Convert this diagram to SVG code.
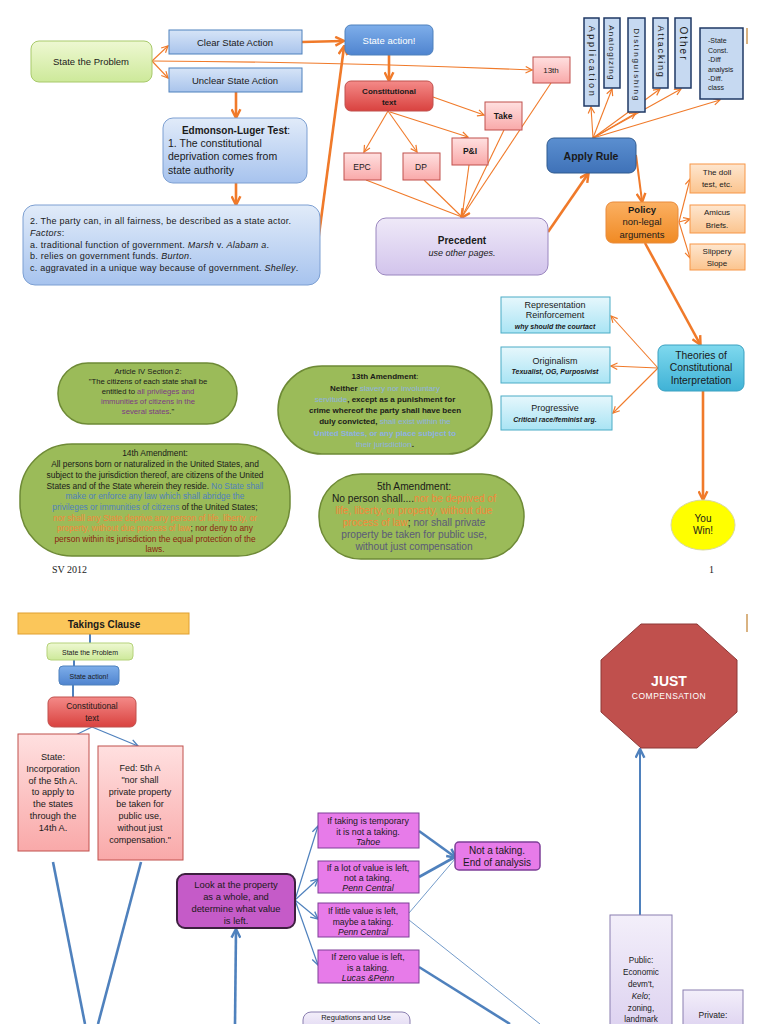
<svg xmlns="http://www.w3.org/2000/svg" width="768" height="1024" viewBox="0 0 768 1024">
<defs>
<linearGradient id="gGreen" x1="0" y1="0" x2="0" y2="1"><stop offset="0" stop-color="#eef8d2"/><stop offset="1" stop-color="#cde99a"/></linearGradient>
<linearGradient id="gLBlue" x1="0" y1="0" x2="0" y2="1"><stop offset="0" stop-color="#d6e4f7"/><stop offset="1" stop-color="#a9c4ec"/></linearGradient>
<linearGradient id="gEdm" x1="0" y1="0" x2="0" y2="1"><stop offset="0" stop-color="#e1ebf9"/><stop offset="1" stop-color="#a7c3ee"/></linearGradient>
<linearGradient id="gSA" x1="0" y1="0" x2="0" y2="1"><stop offset="0" stop-color="#7eaeea"/><stop offset="1" stop-color="#4f84cf"/></linearGradient>
<linearGradient id="gRed" x1="0" y1="0" x2="0" y2="1"><stop offset="0" stop-color="#f48a88"/><stop offset="1" stop-color="#d9423f"/></linearGradient>
<linearGradient id="gPink" x1="0" y1="0" x2="0" y2="1"><stop offset="0" stop-color="#ffe0e0"/><stop offset="1" stop-color="#f9a9a9"/></linearGradient>
<linearGradient id="gPrec" x1="0" y1="0" x2="0" y2="1"><stop offset="0" stop-color="#efe9f8"/><stop offset="1" stop-color="#d2c4ec"/></linearGradient>
<linearGradient id="gApply" x1="0" y1="0" x2="0" y2="1"><stop offset="0" stop-color="#5b8fd0"/><stop offset="1" stop-color="#3f72b8"/></linearGradient>
<linearGradient id="gPolicy" x1="0" y1="0" x2="0" y2="1"><stop offset="0" stop-color="#fbb062"/><stop offset="1" stop-color="#f08a24"/></linearGradient>
<linearGradient id="gPeach" x1="0" y1="0" x2="0" y2="1"><stop offset="0" stop-color="#fee6cf"/><stop offset="1" stop-color="#fbc48e"/></linearGradient>
<linearGradient id="gTheo" x1="0" y1="0" x2="0" y2="1"><stop offset="0" stop-color="#7fd9ee"/><stop offset="1" stop-color="#3fb2d6"/></linearGradient>
<linearGradient id="gCyan" x1="0" y1="0" x2="0" y2="1"><stop offset="0" stop-color="#e6f7fc"/><stop offset="1" stop-color="#a9e4f4"/></linearGradient>
<linearGradient id="gLav" x1="0" y1="0" x2="0" y2="1"><stop offset="0" stop-color="#f3effa"/><stop offset="1" stop-color="#ddd2f0"/></linearGradient>
<marker id="aO" viewBox="0 0 10 10" refX="9" refY="5" markerWidth="8" markerHeight="8" markerUnits="userSpaceOnUse" orient="auto"><path d="M1,1 L9,5 L1,9" fill="none" stroke="#f07a2a" stroke-width="1.5"/></marker>
<marker id="aOB" viewBox="0 0 10 10" refX="8" refY="5" markerWidth="11" markerHeight="11" markerUnits="userSpaceOnUse" orient="auto"><path d="M1,1 L9,5 L1,9" fill="none" stroke="#f07a2a" stroke-width="2.2"/></marker>
<marker id="aB" viewBox="0 0 10 10" refX="9" refY="5" markerWidth="9" markerHeight="9" markerUnits="userSpaceOnUse" orient="auto"><path d="M1,1 L9,5 L1,9" fill="none" stroke="#4f81bd" stroke-width="1.5"/></marker>
<marker id="aBB" viewBox="0 0 10 10" refX="8" refY="5" markerWidth="11" markerHeight="11" markerUnits="userSpaceOnUse" orient="auto"><path d="M1,1 L9,5 L1,9" fill="none" stroke="#4f81bd" stroke-width="2.2"/></marker>
</defs>
<style>
text{font-family:"Liberation Sans",Arial,sans-serif;fill:#1a1a1a;}
.c{text-anchor:middle;}
.b{font-weight:bold;}
.i{font-style:italic;}
.oT{stroke:#f07a2a;stroke-width:1.1;fill:none;}
.oK{stroke:#f07a2a;stroke-width:2.6;fill:none;}
.bT{stroke:#4f81bd;stroke-width:1.2;fill:none;}
.bK{stroke:#4f81bd;stroke-width:2.6;fill:none;}
.pill{fill:#9bbb59;stroke:#6e8a36;stroke-width:1.5;}
.pink{fill:url(#gPink);stroke:#c0504d;stroke-width:1;}
.vbox{fill:#c6d9f1;stroke:#1f3864;stroke-width:1.5;}
.peach{fill:url(#gPeach);stroke:#f79646;stroke-width:1;}
.cyan{fill:url(#gCyan);stroke:#4bacc6;stroke-width:1;}
.purp{fill:#e77be9;stroke:#7e3f98;stroke-width:1;}
.blu{fill:#4f81bd;}
.vio{fill:#7b3a86;}
.org{fill:#f3883a;}
.dred{fill:#8b1f12;}
.lb{fill:#8eb1e0;}
.gp{fill:#5a5a78;}
</style>

<!-- connectors -->
<g id="connectors">
<line class="oT" x1="152" y1="61" x2="168" y2="46" marker-end="url(#aO)"/>
<line class="oT" x1="152" y1="61" x2="168" y2="78" marker-end="url(#aO)"/>
<path class="oT" d="M152,61 Q340,62 532,70" marker-end="url(#aO)"/>
<line class="oK" x1="302" y1="42" x2="343" y2="41" marker-end="url(#aOB)"/>
<line class="oK" x1="236" y1="92" x2="236" y2="117" marker-end="url(#aOB)"/>
<line class="oK" x1="236" y1="183" x2="236" y2="204" marker-end="url(#aOB)"/>
<line class="oK" x1="318" y1="242" x2="344" y2="47" marker-end="url(#aOB)"/>
<line class="oK" x1="389" y1="55" x2="389" y2="80" marker-end="url(#aOB)"/>
<line class="oT" x1="388" y1="111" x2="364" y2="152" marker-end="url(#aO)"/>
<line class="oT" x1="388" y1="111" x2="417" y2="152" marker-end="url(#aO)"/>
<line class="oT" x1="390" y1="112" x2="468" y2="137" marker-end="url(#aO)"/>
<line class="oT" x1="433" y1="97" x2="484" y2="115" marker-end="url(#aO)"/>
<line class="oT" x1="366" y1="180" x2="462" y2="217"/>
<line class="oT" x1="424" y1="180" x2="462" y2="217"/>
<line class="oT" x1="469" y1="165" x2="462" y2="217"/>
<line class="oT" x1="504" y1="130" x2="462" y2="217"/>
<line class="oT" x1="551" y1="83" x2="462" y2="217" marker-end="url(#aOB)"/>
<line class="oK" x1="548" y1="232" x2="588" y2="174" marker-end="url(#aOB)"/>
<line class="oT" x1="593" y1="138" x2="591" y2="107" marker-end="url(#aO)"/>
<line class="oT" x1="593" y1="138" x2="612" y2="89" marker-end="url(#aO)"/>
<line class="oT" x1="593" y1="138" x2="636" y2="113" marker-end="url(#aO)"/>
<line class="oT" x1="593" y1="138" x2="660" y2="89" marker-end="url(#aO)"/>
<line class="oT" x1="593" y1="138" x2="681" y2="89" marker-end="url(#aO)"/>
<line class="oT" x1="593" y1="138" x2="720" y2="100" marker-end="url(#aO)"/>
<line class="oK" style="stroke-width:2" x1="636" y1="155" x2="642" y2="201" marker-end="url(#aOB)"/>
<line class="oT" x1="679" y1="222" x2="690" y2="179" marker-end="url(#aO)"/>
<line class="oT" x1="679" y1="222" x2="690" y2="219" marker-end="url(#aO)"/>
<line class="oT" x1="679" y1="222" x2="690" y2="258" marker-end="url(#aO)"/>
<line class="oK" x1="645" y1="243" x2="700" y2="344" marker-end="url(#aOB)"/>
<line class="oT" x1="658" y1="368" x2="611" y2="316" marker-end="url(#aO)"/>
<line class="oT" x1="658" y1="368" x2="611" y2="366" marker-end="url(#aO)"/>
<line class="oT" x1="658" y1="368" x2="613" y2="413" marker-end="url(#aO)"/>
<line class="oK" x1="703" y1="391" x2="703" y2="499" marker-end="url(#aOB)"/>

<line class="bK" style="stroke-width:2" x1="90" y1="634" x2="90" y2="643"/>
<line class="bK" style="stroke-width:2" x1="74" y1="660" x2="74" y2="666"/>
<line class="bK" style="stroke-width:2" x1="73" y1="685" x2="73" y2="697"/>
<line class="bT" x1="92" y1="727" x2="55" y2="745" marker-end="url(#aB)"/>
<line class="bT" x1="92" y1="727" x2="138" y2="746" marker-end="url(#aB)"/>
<line class="bK" x1="53" y1="862" x2="85" y2="1024"/>
<line class="bK" x1="141" y1="862" x2="98" y2="1024"/>
<line class="bK" x1="235" y1="1024" x2="236" y2="930" marker-end="url(#aBB)"/>
<line class="bT" x1="295" y1="900" x2="318" y2="826" marker-end="url(#aB)"/>
<line class="bT" x1="295" y1="900" x2="318" y2="879" marker-end="url(#aB)"/>
<line class="bT" x1="295" y1="900" x2="318" y2="919" marker-end="url(#aB)"/>
<line class="bT" x1="295" y1="900" x2="318" y2="965" marker-end="url(#aB)"/>
<line class="bK" x1="419" y1="831" x2="455" y2="857" marker-end="url(#aBB)"/>
<line class="bK" x1="419" y1="877" x2="455" y2="857"/>
<line class="bT" style="stroke-width:0.8" x1="409" y1="913" x2="455" y2="859"/>
<line class="bT" style="stroke-width:0.8" x1="409" y1="920" x2="540" y2="1024"/>
<line class="bK" x1="419" y1="967" x2="510" y2="1024"/>
<line class="bK" style="stroke-width:2" x1="640" y1="915" x2="640" y2="750" marker-end="url(#aBB)"/>
</g>

<!-- top page nodes -->
<g id="n-problem"><rect x="31" y="41" width="121" height="41" rx="8" fill="url(#gGreen)" stroke="#a8c96a"/><text class="c" x="91" y="65" font-size="9.5">State the Problem</text></g>
<g id="n-clear"><rect x="169" y="30" width="133" height="24" fill="url(#gLBlue)" stroke="#4f81bd"/><text class="c" x="235" y="46" font-size="9.5">Clear State Action</text></g>
<g id="n-unclear"><rect x="169" y="68" width="133" height="24" fill="url(#gLBlue)" stroke="#4f81bd"/><text class="c" x="235" y="84" font-size="9.5">Unclear State Action</text></g>
<g id="n-edm"><rect x="163" y="118" width="144" height="65" rx="10" fill="url(#gEdm)" stroke="#7c9fd2"/>
<text class="c b" x="236" y="134" font-size="10">Edmonson-Luger Test<tspan font-weight="normal">:</tspan></text>
<text x="168" y="147" font-size="10.5">1. The constitutional</text>
<text x="168" y="160" font-size="10.5">deprivation comes from</text>
<text x="168" y="174" font-size="10.5">state authority</text></g>
<g id="n-party"><rect x="23" y="205" width="297" height="80" rx="12" fill="url(#gEdm)" stroke="#7c9fd2"/>
<g font-size="9" letter-spacing="0.25"><text x="30" y="224">2. The party can, in all fairness, be described as a state actor.</text>
<text x="30" y="236" class="i">Factors<tspan font-style="normal">:</tspan></text>
<text x="30" y="248">a. traditional function of government. <tspan class="i">Marsh</tspan> v. <tspan class="i">Alabam a</tspan>.</text>
<text x="30" y="259">b. relies on government funds. <tspan class="i">Burton</tspan>.</text>
<text x="30" y="271">c. aggravated in a unique way because of government. <tspan class="i">Shelley</tspan>.</text></g></g>
<g id="n-sa"><rect x="345" y="25" width="88" height="30" rx="6" fill="url(#gSA)" stroke="#4f81bd"/><text class="c" x="389" y="44" font-size="9.5" style="fill:#ffffff">State action!</text></g>
<g id="n-ct"><rect x="345" y="81" width="88" height="30" rx="6" fill="url(#gRed)" stroke="#c0504d"/><text class="c b" x="389" y="94" font-size="8">Constitutional</text><text class="c b" x="389" y="105" font-size="8">text</text></g>
<g id="n-13"><rect class="pink" x="533" y="57" width="37" height="26"/><text class="c" x="551" y="73" font-size="8">13th</text></g>
<g id="n-take"><rect class="pink" x="485" y="102" width="37" height="28"/><text class="c b" x="503" y="119" font-size="8.5">Take</text></g>
<g id="n-pi"><rect class="pink" x="452" y="138" width="36" height="27"/><text class="c b" x="470" y="154" font-size="8.5">P&amp;I</text></g>
<g id="n-epc"><rect class="pink" x="344" y="153" width="37" height="27"/><text class="c" x="362" y="170" font-size="8.5">EPC</text></g>
<g id="n-dp"><rect class="pink" x="403" y="153" width="37" height="27"/><text class="c" x="421" y="170" font-size="8.5">DP</text></g>
<g id="n-prec"><rect x="376" y="218" width="172" height="57" rx="10" fill="url(#gPrec)" stroke="#9a86bf"/><text class="c b" x="462" y="244" font-size="10">Precedent</text><text class="c i" x="462" y="256" font-size="9">use other pages.</text></g>
<g id="n-apply"><rect x="547" y="138" width="89" height="35" rx="7" fill="url(#gApply)" stroke="#2f5a8f"/><text class="c b" x="591" y="160" font-size="10.5">Apply Rule</text></g>
<g id="n-appl"><rect class="vbox" x="584" y="18" width="15" height="88"/><text class="c" transform="translate(591.5,62) rotate(90)" y="3" font-size="9" letter-spacing="2.6">Application</text></g>
<g id="n-anal"><rect class="vbox" x="604" y="18" width="16" height="70"/><text class="c" transform="translate(612,53) rotate(90)" y="3" font-size="8" letter-spacing="1.3">Analogizing</text></g>
<g id="n-dist"><rect class="vbox" x="628" y="18" width="17" height="94"/><text class="c" transform="translate(636.5,65) rotate(90)" y="3" font-size="8" letter-spacing="1.7">Distinguishing</text></g>
<g id="n-att"><rect class="vbox" x="653" y="18" width="15" height="70"/><text class="c" transform="translate(660.5,52) rotate(90)" y="3" font-size="9" letter-spacing="1.8">Attacking</text></g>
<g id="n-oth"><rect class="vbox" x="675" y="18" width="16" height="70"/><text class="c" transform="translate(683,44) rotate(90)" y="3.5" font-size="10" letter-spacing="2">Other</text></g>
<g id="n-state"><rect class="vbox" x="700" y="28" width="43" height="71"/>
<g font-size="7"><text x="708" y="43">-State</text><text x="708" y="53">Const.</text><text x="708" y="62">-Diff</text><text x="708" y="72">analysis</text><text x="708" y="81">-Diff.</text><text x="708" y="90">class</text></g></g>
<g id="n-policy"><rect x="606" y="202" width="72" height="41" rx="7" fill="url(#gPolicy)" stroke="#e98a3a"/><text class="c b" x="642" y="213" font-size="9.5">Policy</text><text class="c" x="642" y="225" font-size="9.5">non-legal</text><text class="c" x="642" y="238" font-size="9.5">arguments</text></g>
<g id="n-doll"><rect class="peach" x="690" y="164" width="55" height="29"/><text class="c" x="717" y="175" font-size="8">The doll</text><text class="c" x="717" y="187" font-size="8">test, etc.</text></g>
<g id="n-amicus"><rect class="peach" x="690" y="205" width="55" height="28"/><text class="c" x="717" y="215" font-size="8">Amicus</text><text class="c" x="717" y="228" font-size="8">Briefs.</text></g>
<g id="n-slip"><rect class="peach" x="690" y="244" width="55" height="26"/><text class="c" x="717" y="254" font-size="8">Slippery</text><text class="c" x="717" y="266" font-size="8">Slope</text></g>
<g id="n-theo"><rect x="658" y="345" width="86" height="46" rx="7" fill="url(#gTheo)" stroke="#3aa0c0"/><text class="c" x="701" y="359" font-size="10.3">Theories of</text><text class="c" x="701" y="371" font-size="10.3">Constitutional</text><text class="c" x="701" y="384" font-size="10.3">Interpretation</text></g>
<g id="n-rep"><rect class="cyan" x="501" y="297" width="109" height="36"/><text class="c" x="555" y="308" font-size="9">Representation</text><text class="c" x="555" y="318" font-size="9">Reinforcement</text><text class="c b i" x="555" y="328.5" font-size="7">why should the courtact</text></g>
<g id="n-orig"><rect class="cyan" x="501" y="347" width="109" height="36"/><text class="c" x="555" y="364" font-size="9">Originalism</text><text class="c b i" x="555" y="373.5" font-size="7">Texualist, OG, Purposivist</text></g>
<g id="n-prog"><rect class="cyan" x="501" y="396" width="111" height="34"/><text class="c" x="555" y="411" font-size="9">Progressive</text><text class="c b i" x="555" y="421.5" font-size="7">Critical race/feminist arg.</text></g>
<g id="n-win"><ellipse cx="703" cy="525" rx="32" ry="25" fill="#ffff00" stroke="#d8d8a0"/><text class="c" x="703" y="522" font-size="10">You</text><text class="c" x="703" y="534" font-size="10">Win!</text></g>

<g id="n-art4"><rect class="pill" x="58" y="363" width="179" height="61" rx="30"/>
<g font-size="7.7"><text class="c" x="148" y="374">Article IV Section 2:</text>
<text class="c" x="148" y="384">"The citizens of each state shall be</text>
<text class="c" x="148" y="394">entitled to <tspan class="vio">all privileges and</tspan></text>
<text class="c vio" x="148" y="404">immunities of citizens in the</text>
<text class="c vio" x="148" y="414">several states<tspan style="fill:#1a1a1a">."</tspan></text></g></g>
<g id="n-13a"><rect class="pill" x="278" y="366" width="214" height="88" rx="44"/>
<g font-size="8" class="b"><text class="c b" x="385" y="379">13th Amendment<tspan font-weight="normal">:</tspan></text>
<text class="c b" x="385" y="391">Neither <tspan class="lb" font-weight="normal">slavery nor involuntary</tspan></text>
<text class="c b" x="385" y="402"><tspan class="lb" font-weight="normal">servitude</tspan>, except as a punishment for</text>
<text class="c b" x="385" y="413">crime whereof the party shall have been</text>
<text class="c b" x="385" y="424">duly convicted, <tspan class="lb" font-weight="normal">shall exist within the</tspan></text>
<text class="c lb" x="385" y="436">United States, or any place subject to</text>
<text class="c b" x="385" y="447"><tspan class="lb" font-weight="normal">their jurisdiction</tspan>.</text></g></g>
<g id="n-14a"><rect class="pill" x="20" y="444" width="270" height="112" rx="52"/>
<g font-size="8.4"><text class="c" x="155" y="456">14th Amendment:</text>
<text class="c" x="155" y="467">All persons born or naturalized in the United States, and</text>
<text class="c" x="155" y="478">subject to the jurisdiction thereof, are citizens of the United</text>
<text class="c" x="155" y="489">States and of the State wherein they reside. <tspan class="blu">No State shall</tspan></text>
<text class="c blu" x="155" y="499">make or enforce any law which shall abridge the</text>
<text class="c" x="155" y="510"><tspan class="blu">privileges or immunities of citizens</tspan> of the United States;</text>
<text class="c org" x="155" y="521">nor shall any State deprive any person of life, liberty, or</text>
<text class="c" x="155" y="531"><tspan class="org">property, without due process of law</tspan>; <tspan class="dred">nor deny to any</tspan></text>
<text class="c dred" x="155" y="542">person within its jurisdiction the equal protection of the</text>
<text class="c dred" x="155" y="552">laws.</text></g></g>
<g id="n-5a"><rect class="pill" x="319" y="474" width="205" height="85" rx="42"/>
<g font-size="10.2"><text class="c" x="414" y="490">5th Amendment:</text>
<text class="c" x="414" y="502">No person shall....<tspan class="org">nor be deprived of</tspan></text>
<text class="c org" x="414" y="514">life, liberty, or property, without due</text>
<text class="c gp" x="414" y="526"><tspan class="org">process of law</tspan><tspan style="fill:#1a1a1a">;</tspan> nor shall private</text>
<text class="c gp" x="414" y="538">property be taken for public use,</text>
<text class="c gp" x="414" y="550">without just compensation</text></g></g>
<text x="52" y="573" font-size="10" style="font-family:'Liberation Serif',serif">SV 2012</text>
<text x="709" y="573" font-size="10" style="font-family:'Liberation Serif',serif">1</text>
<rect x="746" y="28" width="2" height="16" fill="#d9b382"/>

<!-- bottom page nodes -->
<g id="b-tak"><rect x="18" y="613" width="171" height="21" fill="#fbc65a" stroke="#e0a030"/><text class="c b" x="104" y="628" font-size="10">Takings Clause</text></g>
<g id="b-prob"><rect x="47" y="643" width="86" height="17" rx="4" fill="url(#gGreen)" stroke="#b5d27a"/><text class="c" x="90" y="655" font-size="7">State the Problem</text></g>
<g id="b-sa"><rect x="59" y="666" width="60" height="19" rx="4" fill="url(#gSA)" stroke="#4f81bd"/><text class="c" x="89" y="679" font-size="7">State action!</text></g>
<g id="b-ct"><rect x="48" y="697" width="88" height="30" rx="6" fill="url(#gRed)" stroke="#c0504d"/><text class="c" x="92" y="709" font-size="8.5">Constitutional</text><text class="c" x="92" y="721" font-size="8.5">text</text></g>
<g id="b-state"><rect class="pink" x="18" y="734" width="71" height="117"/>
<g font-size="9.2"><text class="c" x="53" y="760">State:</text><text class="c" x="53" y="772">Incorporation</text><text class="c" x="53" y="784">of the 5th A.</text><text class="c" x="53" y="795">to apply to</text><text class="c" x="53" y="807">the states</text><text class="c" x="53" y="819">through the</text><text class="c" x="53" y="831">14th A.</text></g></g>
<g id="b-fed"><rect class="pink" x="98" y="746" width="85" height="114"/>
<g font-size="9"><text class="c" x="140" y="771">Fed: 5th A</text><text class="c" x="140" y="783">"nor shall</text><text class="c" x="140" y="795">private property</text><text class="c" x="140" y="807">be taken for</text><text class="c" x="140" y="819">public use,</text><text class="c" x="140" y="831">without just</text><text class="c" x="140" y="843">compensation."</text></g></g>
<g id="b-look"><rect x="177" y="874" width="118" height="54" rx="8" fill="#c55bc8" stroke="#3d1f3f" stroke-width="2"/>
<g font-size="9.4"><text class="c" x="236" y="888">Look at the property</text><text class="c" x="236" y="900">as a whole, and</text><text class="c" x="236" y="912">determine what value</text><text class="c" x="236" y="924">is left.</text></g></g>
<g id="b-temp"><rect class="purp" x="318" y="813" width="101" height="35"/><g font-size="8.8"><text class="c" x="368" y="824">If taking is temporary</text><text class="c" x="368" y="835">it is not a taking.</text><text class="c i" x="368" y="845">Tahoe</text></g></g>
<g id="b-lot"><rect class="purp" x="318" y="861" width="101" height="32"/><g font-size="8.8"><text class="c" x="368" y="871">If a lot of value is left,</text><text class="c" x="368" y="881">not a taking.</text><text class="c i" x="368" y="891">Penn Central</text></g></g>
<g id="b-little"><rect class="purp" x="318" y="903" width="91" height="34"/><g font-size="8.6"><text class="c" x="363" y="914">If little value is left,</text><text class="c" x="363" y="925">maybe a taking.</text><text class="c i" x="363" y="935">Penn Central</text></g></g>
<g id="b-zero"><rect class="purp" x="318" y="950" width="101" height="33"/><g font-size="8.8"><text class="c" x="368" y="960">If zero value is left,</text><text class="c" x="368" y="971">is a taking.</text><text class="c i" x="368" y="981">Lucas &amp;Penn</text></g></g>
<g id="b-not"><rect x="455" y="842" width="85" height="28" rx="4" fill="#e77be9" stroke="#7e3f98" stroke-width="1.5"/><text class="c" x="497" y="854" font-size="10">Not a taking.</text><text class="c" x="497" y="866" font-size="10">End of analysis</text></g>
<g id="b-reg"><rect x="303" y="1012" width="107" height="22" rx="8" fill="url(#gLav)" stroke="#8a7fb0"/><text class="c" x="356" y="1020" font-size="7.5">Regulations and Use</text></g>
<g id="b-just"><polygon points="641,624 697,624 737,660 737,712 697,748 641,748 601,712 601,660" fill="#c0504d" stroke="#8c3836"/><text class="c b" x="669" y="686" font-size="14" style="fill:#ffffff">JUST</text><text class="c" x="669" y="699" font-size="8.5" style="fill:#ffffff" letter-spacing="0.5">COMPENSATION</text></g>
<g id="b-pub"><rect x="610" y="915" width="62" height="115" fill="url(#gLav)" stroke="#8a7fb0"/>
<g font-size="8.2"><text class="c" x="641" y="963">Public:</text><text class="c" x="641" y="975">Economic</text><text class="c" x="641" y="987">devm't,</text><text class="c i" x="641" y="999">Kelo<tspan font-style="normal">;</tspan></text><text class="c" x="641" y="1011">zoning,</text><text class="c" x="641" y="1022">landmark</text></g></g>
<g id="b-priv"><rect x="683" y="990" width="60" height="40" fill="url(#gLav)" stroke="#8a7fb0"/><text class="c" x="713" y="1018" font-size="8.5">Private:</text></g>
<rect x="746" y="614" width="2" height="18" fill="#d9b382"/>
</svg>
